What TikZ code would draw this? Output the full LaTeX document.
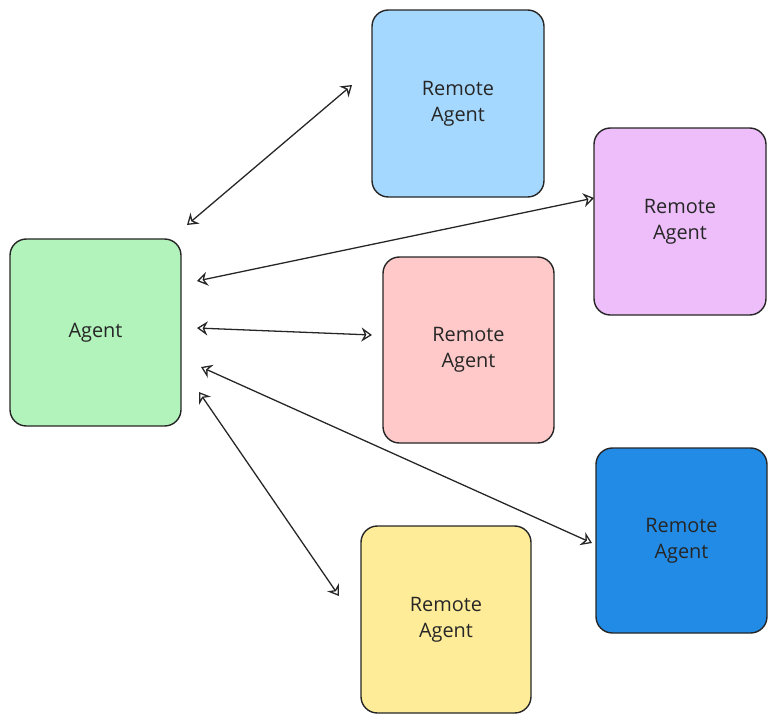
\documentclass[tikz,border=0pt]{standalone}
\usepackage{fontspec}
\setmainfont{Open Sans}
\usetikzlibrary{arrows.meta}
\definecolor{agentgreen}{HTML}{B2F2BB}
\definecolor{remblue}{HTML}{A5D8FF}
\definecolor{rempurple}{HTML}{EEBEFA}
\definecolor{remred}{HTML}{FFC9C9}
\definecolor{remdark}{HTML}{228BE6}
\definecolor{remyellow}{HTML}{FFEC99}
\tikzset{
  box/.style={draw=black!85,line width=1.2pt,rounded corners=14pt,minimum width=171\pxu,minimum height=187\pxu,align=center,font=\fontsize{17}{22}\selectfont,text=black!85},
  link/.style={{Stealth[open,length=9pt,width=12pt]}-{Stealth[open,length=9pt,width=12pt]},line width=1.1pt,black!85}
}
\newcommand{\pxu}{*0.03cm}
\begin{document}
\begin{tikzpicture}[x=0.03cm,y=-0.03cm]
  % Rahmen
  \useasboundingbox (0,0) rectangle (777,723);
  % Kaesten
  \node[box,fill=agentgreen,minimum width=0.03cm*171,minimum height=0.03cm*187] (agent) at (95.5,332.5) {Agent};
  \node[box,fill=remblue,minimum width=0.03cm*172,minimum height=0.03cm*187] (remA) at (458,103.5) {Remote\\Agent};
  \node[box,fill=rempurple,minimum width=0.03cm*172,minimum height=0.03cm*187] (remB) at (680,221.5) {Remote\\Agent};
  \node[box,fill=remred,minimum width=0.03cm*171,minimum height=0.03cm*186] (remC) at (468.5,350) {Remote\\Agent};
  \node[box,fill=remdark,minimum width=0.03cm*171,minimum height=0.03cm*185] (remD) at (681.5,540.5) {Remote\\Agent};
  \node[box,fill=remyellow,minimum width=0.03cm*170,minimum height=0.03cm*187] (remE) at (446,619.5) {Remote\\Agent};
  % Enden der Pfeile
  \coordinate (a1) at (187,225); \coordinate (b1) at (352,85);
  \coordinate (a2) at (197,281); \coordinate (b2) at (594,198);
  \coordinate (a3) at (197,328); \coordinate (b3) at (372,335);
  \coordinate (a4) at (201,367); \coordinate (b4) at (592,543);
  \coordinate (a5) at (199,392); \coordinate (b5) at (339,596);
  % Pfeile
  \foreach \i in {1,...,5}
    \draw[link] (a\i) -- (b\i);
\end{tikzpicture}
\end{document}
